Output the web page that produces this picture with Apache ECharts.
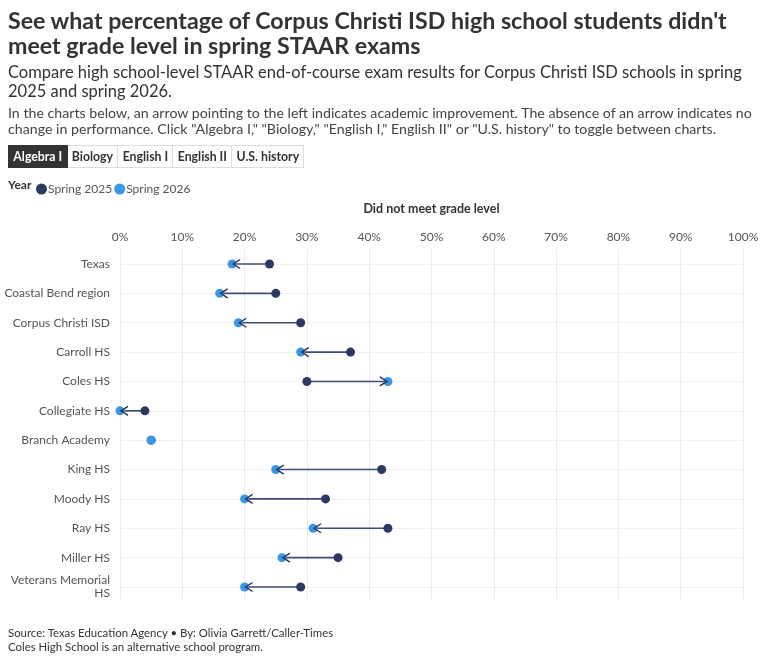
<!DOCTYPE html>
<html>
<head>
<meta charset="utf-8">
<script src="https://cdn.jsdelivr.net/npm/echarts@6/dist/echarts.min.js"></script>
<style>
  body { margin: 0; background: #fff; font-family: Lato, 'Noto Sans', sans-serif; }
  #chart { position: absolute; left: 0; top: 0; width: 768px; height: 663px; }
  .txt { position: absolute; left: 8px; white-space: nowrap; color: #333; }
  #title { top: 8px; font-size: 23.2px; font-weight: bold; line-height: 25px; color: #333; }
  #sub { top: 63px; font-size: 16.5px; line-height: 18.5px; color: #333; }
  #desc { top: 105px; font-size: 14.2px; line-height: 15.5px; color: #444; }
  #btns { position: absolute; left: 8px; top: 145px; display: flex; }
  #btns div { border: 1px solid #ddd; border-left: none; font-size: 12.3px; font-weight: bold; height: 21px; line-height: 21px; padding: 0 4.3px; color: #333; }
  #btns div:first-child { background: #333; color: #fff; border: 1px solid #333; }
  #year { top: 177px; font-size: 12px; font-weight: bold; }
  #foot { top: 626px; font-size: 11.4px; line-height: 14px; color: #333; }
</style>
</head>
<body>
<div id="chart"></div>
<div class="txt" id="title">See what percentage of Corpus Christi ISD high school students didn't<br>meet grade level in spring STAAR exams</div>
<div class="txt" id="sub">Compare high school-level STAAR end-of-course exam results for Corpus Christi ISD schools in spring<br>2025 and spring 2026.</div>
<div class="txt" id="desc">In the charts below, an arrow pointing to the left indicates academic improvement. The absence of an arrow indicates no<br>change in performance. Click "Algebra I," "Biology," "English I," English II" or "U.S. history" to toggle between charts.</div>
<div id="btns"><div>Algebra I</div><div>Biology</div><div>English I</div><div>English II</div><div>U.S. history</div></div>
<div class="txt" id="year">Year</div>
<div class="txt" id="foot">Source: Texas Education Agency • By: Olivia Garrett/Caller-Times<br>Coles High School is an alternative school program.</div>
<script>
const schools = ['Texas', 'Coastal Bend region', 'Corpus Christi ISD', 'Carroll HS', 'Coles HS', 'Collegiate HS',
  'Branch Academy', 'King HS', 'Moody HS', 'Ray HS', 'Miller HS', 'Veterans Memorial\nHS'];
const spring2025 = [24, 25, 29, 37, 30, 4, 5, 42, 33, 43, 35, 29];
const spring2026 = [18, 16, 19, 29, 43, 0, 5, 25, 20, 31, 26, 20];

const dark = '#2c3a62';
const light = '#3a96e6';
const lineColor = '#3f4b78';
const font = 'Lato, "Noto Sans", sans-serif';

const pairs = schools.map((s, i) => [spring2025[i], spring2026[i], i]);

function renderLine(params, api) {
  const a = api.coord([api.value(0), api.value(2)]);
  const b = api.coord([api.value(1), api.value(2)]);
  if (api.value(0) === api.value(1)) return null;
  return {
    type: 'line',
    shape: { x1: a[0], y1: a[1], x2: b[0], y2: b[1] },
    style: { stroke: lineColor, lineWidth: 1.6 }
  };
}

function renderHead(params, api) {
  const a = api.coord([api.value(0), api.value(2)]);
  const b = api.coord([api.value(1), api.value(2)]);
  if (api.value(0) === api.value(1)) return null;
  const dir = b[0] > a[0] ? 1 : -1;
  const tip = b[0] - dir * 1;
  return {
    type: 'polyline',
    shape: { points: [[tip - dir * 7, b[1] - 4.5], [tip, b[1]], [tip - dir * 7, b[1] + 4.5]] },
    style: { stroke: '#2a3350', lineWidth: 1.4, fill: null }
  };
}

const chart = echarts.init(document.getElementById('chart'));
chart.setOption({
  animation: false,
  textStyle: { fontFamily: font },
  legend: {
    left: 31, top: 178, itemGap: 2, itemWidth: 11, itemHeight: 11,
    icon: 'circle',
    data: ['Spring 2025', 'Spring 2026'],
    textStyle: { color: '#555', fontSize: 12, padding: [0, 0, 0, -4] }
  },
  grid: [
    { left: 120, right: 25, top: 249, bottom: 62 },
    { left: 120, right: 25, top: 264, bottom: 76 }
  ],
  xAxis: [
    {
      gridIndex: 0, type: 'value', position: 'top', min: 0, max: 100, interval: 10,
      name: 'Did not meet grade level', nameLocation: 'middle', nameGap: 34,
      nameTextStyle: { fontWeight: 'bold', fontSize: 12.5, color: '#333' },
      axisLine: { show: false }, axisTick: { show: false },
      axisLabel: { formatter: '{value}%', color: '#555', fontSize: 12, margin: 6 },
      splitLine: { lineStyle: { color: '#ebebeb' } }
    },
    {
      gridIndex: 1, type: 'value', min: 0, max: 100, show: false
    }
  ],
  yAxis: [
    {
      gridIndex: 0, type: 'category', data: schools, inverse: true, show: false
    },
    {
      gridIndex: 1, type: 'category', data: schools, inverse: true, boundaryGap: false,
      axisLine: { show: false }, axisTick: { show: false },
      axisLabel: { color: '#555', fontSize: 12, margin: 10, lineHeight: 13, align: 'right' },
      splitLine: { show: true, lineStyle: { color: '#f0f0f0' } }
    }
  ],
  series: [
    {
      type: 'custom', xAxisIndex: 1, yAxisIndex: 1, z: 2,
      renderItem: renderLine, data: pairs, encode: { x: [0, 1], y: 2 }
    },
    {
      name: 'Spring 2025', type: 'scatter', xAxisIndex: 1, yAxisIndex: 1, z: 3,
      symbolSize: 9, itemStyle: { color: dark, opacity: 1 },
      data: spring2025.map((v, i) => [v, i])
    },
    {
      name: 'Spring 2026', type: 'scatter', xAxisIndex: 1, yAxisIndex: 1, z: 4,
      symbolSize: 9, itemStyle: { color: light, opacity: 1 },
      data: spring2026.map((v, i) => [v, i])
    },
    {
      type: 'custom', xAxisIndex: 1, yAxisIndex: 1, z: 5,
      renderItem: renderHead, data: pairs, encode: { x: [0, 1], y: 2 }
    }
  ]
});
</script>
</body>
</html>
